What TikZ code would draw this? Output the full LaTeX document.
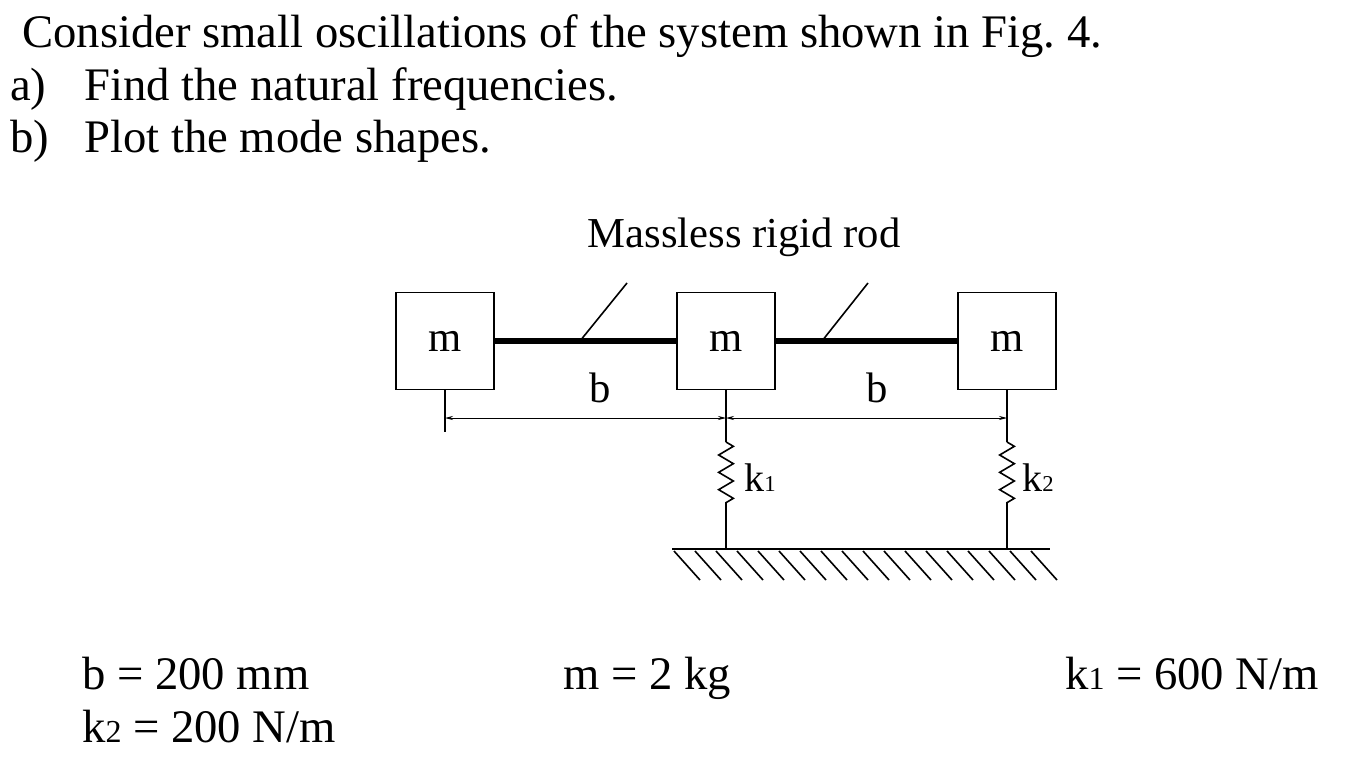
\documentclass[tikz,border=0pt]{standalone}
\usepackage{fontspec}
\setmainfont{Liberation Serif}
\usetikzlibrary{arrows.meta,decorations.pathmorphing}
\begin{document}
\frenchspacing
\begin{tikzpicture}[x=0.75pt,y=-0.75pt,
  big/.style={font=\fontsize{35}{37}\selectfont, inner sep=0pt, anchor=base west},
  lab/.style={font=\fontsize{32}{34}\selectfont, inner sep=0pt},
  mass/.style={draw, line width=1.2pt, minimum width=73.5pt, minimum height=72.75pt, inner sep=0pt, font=\fontsize{32}{34}\selectfont},
  rod/.style={line width=4pt},
  thin/.style={line width=1.2pt},
  dim/.style={line width=0.6pt, {Stealth[length=6pt,width=3pt]}-{Stealth[length=6pt,width=3pt]}},
  spring/.style={thin, decorate, decoration={zigzag, segment length=13pt, amplitude=5.5pt, pre length=0pt, post length=0pt}}]
\useasboundingbox (0,0) rectangle (1372,760);
\newcommand{\sm}[1]{{\fontsize{17}{18}\selectfont #1}}
\newcommand{\smb}[1]{{\fontsize{24}{26}\selectfont #1}}
% header text
\node[big] (t0) at (22,47) {Consider small oscillations of the system shown in Fig. 4.};
\node[big] (t1) at (10,100) {a)};
\node[big] (t1b) at (84,100) {Find the natural frequencies.};
\node[big] (t2) at (10,152) {b)};
\node[big] (t2b) at (84,152) {Plot the mode shapes.};
\node[lab] (rodlab) at (744,237) {Massless rigid rod};
% masses
\node[mass] (m1) at (445,341) {m};
\node[mass] (m2) at (726,341) {m};
\node[mass] (m3) at (1007,341) {m};
\draw[rod] (m1.east) -- (m2.west);
\draw[rod] (m2.east) -- (m3.west);
\coordinate (s1) at (580,341); \coordinate (s1e) at (627,283);
\coordinate (s2) at (822,341); \coordinate (s2e) at (868,283);
\draw[thin] (s1) -- (s1e);
\draw[thin] (s2) -- (s2e);
% dimension
\coordinate (d0) at (445,432);
\coordinate (a0) at (445,418); \coordinate (a1) at (726,418); \coordinate (a2) at (1007,418);
\draw[thin] (m1.south) -- (d0);
\draw[dim] (a0) -- (a1);
\draw[dim] (a1) -- (a2);
\node[lab] (b1) at (600,388) {b};
\node[lab] (b2) at (877,388) {b};
% springs
\coordinate (k1t) at (726,442); \coordinate (k1b) at (726,503); \coordinate (g1) at (726,549);
\coordinate (k2t) at (1007,442); \coordinate (k2b) at (1007,503); \coordinate (g2) at (1007,549);
\draw[thin] (m2.south) -- (k1t);
\draw[spring] (k1t) -- (k1b);
\draw[thin] (k1b) -- (g1);
\draw[thin] (m3.south) -- (k2t);
\draw[spring] (k2t) -- (k2b);
\draw[thin] (k2b) -- (g2);
\node[lab, font=\fontsize{30}{32}\selectfont, anchor=west] (k1) at (744,478) {k\sm{1}};
\node[lab, font=\fontsize{30}{32}\selectfont, anchor=west] (k2) at (1022,478) {k\sm{2}};
% ground
\coordinate (gl) at (672,549); \coordinate (gr) at (1050,549);
\draw[line width=1.8pt] (gl) -- (gr);
\foreach \i in {0,...,17} {
  \draw[thin] (674+21*\i,551) -- (674+21*\i+26,580);
}
% data
\node[big] (d1) at (82,689) {b = 200 mm};
\node[big] (d2) at (82,742) {k\smb{2} = 200 N/m};
\node[big] (d3) at (563,689) {m = 2 kg};
\node[big] (d4) at (1065,689) {k\smb{1} = 600 N/m};
\end{tikzpicture}
\end{document}
